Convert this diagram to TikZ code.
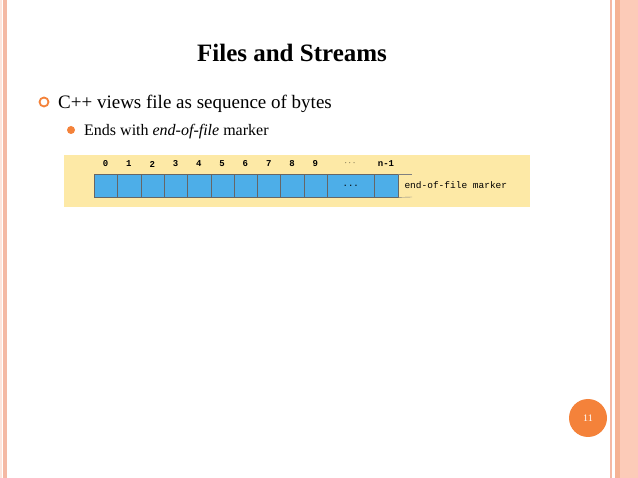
\documentclass[tikz,border=0pt]{standalone}
\usepackage{fontspec}
\setmainfont{Liberation Serif}
\setmonofont{Liberation Mono}
\begin{document}
\begin{tikzpicture}[x=1pt,y=-1pt,
  cell/.style={draw=black!60,line width=0.4pt,fill=cellblue},
  idx/.style={font=\ttfamily\bfseries\fontsize{9}{10}\selectfont}]
\definecolor{cellblue}{HTML}{4DAEE8}
\definecolor{pinkband}{HTML}{FCCBB8}
\definecolor{pinkline}{HTML}{F4B9A4}
\definecolor{boxyellow}{HTML}{FDE9A6}
\definecolor{orangeb}{HTML}{F4823A}
\useasboundingbox (0,0) rectangle (638,478);
\fill[white] (0,0) rectangle (638,478);
% page borders
\fill[pinkband!50] (0,0) rectangle (2,478);
\fill[pinkline] (3,0) rectangle (7,478);
\fill[pinkline] (610,0) rectangle (612,478);
\fill[pinkline!90!orange] (615,0) rectangle (620,478);
\fill[pinkband] (620,0) rectangle (638,478);
% title
\node[font=\bfseries\fontsize{25}{28}\selectfont] (title) at (292,53) {Files and Streams};
% bullets
\node[draw=orangeb,line width=1.8pt,circle,inner sep=0pt,minimum size=9pt] (b1) at (44,102) {};
\node[anchor=base west,font=\fontsize{19}{22}\selectfont,inner sep=0pt] (t1) at (58,109) {C++ views file as sequence of bytes};
\node[fill=orangeb,circle,inner sep=0pt,minimum size=8pt] (b2) at (71,130) {};
\node[anchor=base west,font=\fontsize{16}{19}\selectfont,inner sep=0pt] (t2) at (84,136) {Ends with \textit{end-of-file} marker};
% diagram
\fill[boxyellow] (64,155) rectangle (530,207);
\foreach \i in {0,...,9}{
  \node[cell,minimum width=23.3pt,minimum height=23pt,inner sep=0pt,anchor=north west] (c\i) at (94+\i*23.3,174) {};
  \node[idx] (l\i) at (105.6+\i*23.3,164) {\i};
}
\node[cell,minimum width=47pt,minimum height=23pt,inner sep=0pt,anchor=north west,font=\ttfamily\fontsize{9}{10}\selectfont] (cd) at (327,174) {...};
\node[idx] (ld) at (350,163) {$\cdots$};
\node[cell,minimum width=24pt,minimum height=23pt,inner sep=0pt,anchor=north west] (cn) at (374,174) {};
\node[idx] (ln) at (386,164) {n-1};
\coordinate (e1) at (412,174);
\coordinate (e2) at (412,197);
\draw[black!50,line width=0.4pt] (cn.north east) -- (e1);
\draw[black!50,line width=0.4pt] (cn.south east) -- (e2);
\node[anchor=west,font=\ttfamily\fontsize{9.5}{11}\selectfont] (eof) at (401,185.5) {end-of-file marker};
% page number
\node[fill=orangeb,circle,minimum size=38pt,inner sep=0pt,text=white,font=\fontsize{10}{12}\selectfont] (pg) at (588,418) {11};
\end{tikzpicture}
\end{document}
